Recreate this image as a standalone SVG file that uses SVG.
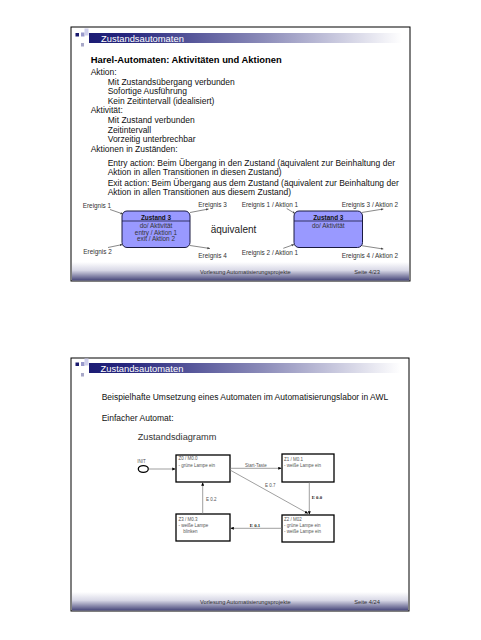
<svg xmlns="http://www.w3.org/2000/svg" width="481" height="640" viewBox="0 0 481 640">
<defs>
<linearGradient id="bar" x1="0" y1="0" x2="1" y2="0">
<stop offset="0" stop-color="#1c1c74"/>
<stop offset="0.12" stop-color="#26267e"/>
<stop offset="0.55" stop-color="#8a8ab8"/>
<stop offset="1" stop-color="#ffffff"/>
</linearGradient>
<linearGradient id="foot" x1="0" y1="0" x2="0" y2="1">
<stop offset="0" stop-color="#ffffff"/>
<stop offset="0.45" stop-color="#d8d8e6"/>
<stop offset="1" stop-color="#47477a"/>
</linearGradient>
<marker id="ah" viewBox="0 0 8 8" refX="7.5" refY="4" markerWidth="4" markerHeight="4" orient="auto">
<path d="M0,0.8 L8,4 L0,7.2 Z" fill="#444"/>
</marker>
<marker id="bh" viewBox="0 0 8 8" refX="7.5" refY="4" markerWidth="5" markerHeight="5" orient="auto">
<path d="M0,0.5 L8,4 L0,7.5 Z" fill="#000"/>
</marker>
</defs>
<style>
.slide{fill:#fff;stroke:#000;stroke-width:1}
.tt{font-family:"Liberation Sans",Arial,sans-serif;font-size:9.4px;fill:#fff}
.h{font-family:"Liberation Sans",Arial,sans-serif;font-size:9.4px;font-weight:bold;fill:#000}
.b{font-family:"Liberation Sans",Arial,sans-serif;font-size:8.5px;fill:#111}
.s{font-family:"Liberation Sans",Arial,sans-serif;font-size:6.4px;fill:#333}
.sb{font-family:"Liberation Sans",Arial,sans-serif;font-size:6.4px;font-weight:bold;fill:#111}
.eq{font-family:"Liberation Sans",Arial,sans-serif;font-size:10px;fill:#222}
.f{font-family:"Liberation Sans",Arial,sans-serif;font-size:5.7px;fill:#333}
.st{fill:#9999ff;stroke:#1a1a40;stroke-width:1}
.c1{stroke:#555;stroke-width:0.7;fill:none;marker-end:url(#ah)}
.zd{font-family:"Liberation Sans",Arial,sans-serif;font-size:9.2px;fill:#333}
.box{fill:#fff;stroke:#000;stroke-width:1.3}
.t{font-family:"Liberation Sans",Arial,sans-serif;font-size:4.5px;fill:#555}
.tb{font-family:"Liberation Serif",serif;font-size:4.8px;font-weight:bold;fill:#222}
.c2{stroke:#777;stroke-width:0.7;fill:none;marker-end:url(#bh)}
</style>

<!-- Slide 1 -->
<g id="slide1">
<rect class="slide" x="71" y="27" width="339" height="254"/>
<rect x="72" y="262" width="337" height="18.5" fill="url(#foot)"/>
<rect x="89" y="33" width="313" height="10" fill="url(#bar)"/>
<rect x="75.5" y="33" width="3.5" height="3.5" fill="#1a1a6e"/>
<rect x="81" y="32.5" width="3.5" height="4" fill="#9a9acc"/>
<rect x="84.5" y="28.5" width="4" height="7" fill="#cfd0ec"/>
<rect x="81" y="43" width="3" height="3.5" fill="#a8a8c8"/>
<text class="tt" x="101" y="41.5">Zustandsautomaten</text>
<text class="h" x="90.7" y="62.5">Harel-Automaten: Aktivitäten und Aktionen</text>
<text class="b" x="90.7" y="74.5">Aktion:</text>
<text class="b" x="107.7" y="84.5">Mit Zustandsübergang verbunden</text>
<text class="b" x="107.7" y="94">Sofortige Ausführung</text>
<text class="b" x="107.7" y="103.5">Kein Zeitintervall (idealisiert)</text>
<text class="b" x="90.7" y="113">Aktivität:</text>
<text class="b" x="107.7" y="123">Mit Zustand verbunden</text>
<text class="b" x="107.7" y="132.5">Zeitintervall</text>
<text class="b" x="107.7" y="142">Vorzeitig unterbrechbar</text>
<text class="b" x="90.7" y="151.5">Aktionen in Zuständen:</text>
<text class="b" x="107.7" y="165.5">Entry action: Beim Übergang in den Zustand (äquivalent zur Beinhaltung der</text>
<text class="b" x="107.7" y="175">Aktion in allen Transitionen in diesen Zustand)</text>
<text class="b" x="107.7" y="185.5">Exit action: Beim Übergang aus dem Zustand (äquivalent zur Beinhaltung der</text>
<text class="b" x="107.7" y="195">Aktion in allen Transitionen aus diesem Zustand)</text>
<text class="eq" x="210.7" y="232.5">äquivalent</text>
<text class="f" x="200" y="273.7">Vorlesung Automatisierungsprojekte</text>
<text class="f" x="354.3" y="273.7">Seite 4/23</text>
</g>

<g id="state-left">
<rect class="st" x="122" y="211" width="68" height="36.5" rx="5" ry="5"/>
<line x1="122" y1="221" x2="190" y2="221" stroke="#1a1a40" stroke-width="0.8"/>
<text class="sb" x="156" y="219.8" text-anchor="middle">Zustand 3</text>
<text class="s" x="156" y="228.3" text-anchor="middle" fill="#222">do/ Aktivität</text>
<text class="s" x="156" y="235" text-anchor="middle" fill="#222">entry / Aktion 1</text>
<text class="s" x="156" y="241.4" text-anchor="middle" fill="#222">exit / Aktion 2</text>
</g>
<g id="state-right">
<rect class="st" x="294" y="211" width="68.5" height="36.5" rx="5" ry="5"/>
<line x1="294" y1="221" x2="362.5" y2="221" stroke="#1a1a40" stroke-width="0.8"/>
<text class="sb" x="328.3" y="219.8" text-anchor="middle">Zustand 3</text>
<text class="s" x="328.3" y="228.3" text-anchor="middle" fill="#222">do/ Aktivität</text>
</g>
<g id="labels1">
<text class="s" x="82.7" y="208">Ereignis 1</text>
<text class="s" x="83.3" y="254">Ereignis 2</text>
<text class="s" x="198.3" y="207.3">Ereignis 3</text>
<text class="s" x="198.3" y="258.3">Ereignis 4</text>
<text class="s" x="241.7" y="207.3">Ereignis 1 / Aktion 1</text>
<text class="s" x="341.7" y="207.3">Ereignis 3 / Aktion 2</text>
<text class="s" x="241.7" y="254.5">Ereignis 2 / Aktion 1</text>
<text class="s" x="341.7" y="258.3">Ereignis 4 / Aktion 2</text>
</g>
<g id="connectors1">
<line class="c1" x1="110" y1="209.5" x2="123" y2="214"/>
<line class="c1" x1="108" y1="247.5" x2="122.5" y2="244.5"/>
<line class="c1" x1="190" y1="212.5" x2="208.5" y2="209"/>
<line class="c1" x1="190" y1="245.5" x2="210" y2="248.5"/>
<line class="c1" x1="286.7" y1="208.5" x2="295" y2="213.5"/>
<line class="c1" x1="283.3" y1="248.3" x2="294" y2="244.5"/>
<line class="c1" x1="361.7" y1="212.5" x2="383.3" y2="209"/>
<line class="c1" x1="361.7" y1="245.7" x2="383.3" y2="249"/>
</g>

<!-- Slide 2 -->
<g id="slide2">
<rect class="slide" x="71" y="358" width="338" height="253"/>
<rect x="72" y="592" width="336" height="18.5" fill="url(#foot)"/>
<rect x="89" y="363" width="312" height="10" fill="url(#bar)"/>
<rect x="75.5" y="362.5" width="3.5" height="3.5" fill="#1a1a6e"/>
<rect x="81" y="362" width="3.5" height="4" fill="#9a9acc"/>
<rect x="84.5" y="358.5" width="4" height="7" fill="#cfd0ec"/>
<rect x="81" y="373" width="3" height="3.5" fill="#a8a8c8"/>
<text class="tt" x="100.5" y="371.5">Zustandsautomaten</text>
<text class="b" x="101.7" y="399.5">Beispielhafte Umsetzung eines Automaten im Automatisierungslabor in AWL</text>
<text class="b" x="101.7" y="420.5">Einfacher Automat:</text>
<text class="zd" x="137.7" y="439.5">Zustandsdiagramm</text>
<text class="f" x="200" y="603.7">Vorlesung Automatisierungsprojekte</text>
<text class="f" x="354.3" y="603.7">Seite 4/24</text>
</g>

<g id="init">
<text class="t" x="137.3" y="462.5" fill="#333">INIT</text>
<ellipse cx="143.3" cy="469" rx="5" ry="3.4" fill="#fff" stroke="#000" stroke-width="1.3"/>
</g>
<g id="z0">
<rect class="box" x="176" y="455" width="54" height="27"/>
<text class="t" x="178.5" y="459.8">Z0 / M0.0</text>
<text class="t" x="178.5" y="466.5">- grüne Lampe ein</text>
</g>
<g id="z1">
<rect class="box" x="282" y="454" width="52" height="28"/>
<text class="t" x="284" y="460.8">Z1 / M0.1</text>
<text class="t" x="284" y="467.2">- weiße Lampe ein</text>
</g>
<g id="z2">
<rect class="box" x="282" y="515" width="52" height="27"/>
<text class="t" x="284" y="520.8">Z2 / M02</text>
<text class="t" x="284" y="527.2">- grüne Lampe ein</text>
<text class="t" x="284" y="533.2">- weiße Lampe ein</text>
</g>
<g id="z3">
<rect class="box" x="176" y="514" width="54" height="27"/>
<text class="t" x="178.5" y="520.8">Z3 / M0.3</text>
<text class="t" x="178.5" y="527.2">- weiße Lampe</text>
<text class="t" x="183.3" y="533.2">blinken</text>
</g>
<g id="connectors2">
<line class="c2" x1="148.5" y1="469" x2="175.5" y2="469"/>
<line class="c2" x1="230" y1="468.3" x2="281.5" y2="468.3"/>
<line class="c2" x1="230" y1="470" x2="308" y2="513.5"/>
<line class="c2" x1="309.3" y1="482" x2="309.3" y2="514.5"/>
<line class="c2" x1="282" y1="528.3" x2="230.5" y2="528.3"/>
<line class="c2" x1="202.7" y1="514" x2="202.7" y2="482.5"/>
<text class="t" x="256" y="466.5" text-anchor="middle">Start-Taste</text>
<text class="t" x="265" y="487">E 0.7</text>
<text class="tb" x="311.7" y="499">E 0.0</text>
<text class="tb" x="255" y="526.5" text-anchor="middle">E 0.1</text>
<text class="t" x="206" y="501">E 0.2</text>
</g>
</svg>
